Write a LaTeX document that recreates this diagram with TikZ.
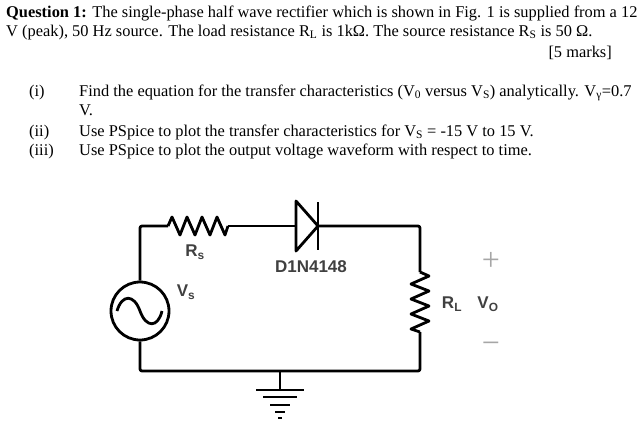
\documentclass[tikz,border=0pt]{standalone}
\usepackage{fontspec}
\setmainfont{Liberation Serif}
\setsansfont{Liberation Sans}
\definecolor{labelgray}{HTML}{404040}
\tikzset{
	wire/.style={line width=2.8pt, line join=round},
	line/.style={anchor=base west, inner sep=0pt, font=\fontsize{16.4}{18}\selectfont},
	lab/.style={inner sep=0pt, text=labelgray, font=\sffamily\bfseries\fontsize{17}{18}\selectfont},
	sign/.style={inner sep=0pt, text=gray!70, font=\fontsize{32}{32}\selectfont}
}
\newcommand{\resistor}[4][0] % [angle]{name}{x}{y}
{
	\draw [wire, rotate around={#1:(#3,#4)}] (#3,#4) -- (#3+4,#4-9) -- (#3+12,#4+9) -- (#3+19,#4-9) -- (#3+27,#4+9)
		-- (#3+34,#4-9) -- (#3+42,#4+9) -- (#3+49,#4-9) -- (#3+57,#4+9) -- (#3+60,#4);
}
\newcommand{\diode}[3] % {x}{y}{name}
{
	\draw [wire] (#1,#2-25) -- (#1+22,#2) -- (#1,#2+25) -- cycle;
	\draw [wire] (#1+22,#2-24) -- (#1+22,#2+24);
	\coordinate (#3a) at (#1,#2);
	\coordinate (#3k) at (#1+22,#2);
}
\begin{document}
\begin{tikzpicture}[x=1pt,y=-1pt]
	\useasboundingbox (0,0) rectangle (641,424);

	% question text
	\node [line] (q1) at (6,17) {\textbf{Question 1:} The single-phase half wave rectifier which is shown in Fig. 1 is supplied from a 12};
	\node [line] (q2) at (6,36) {V (peak), 50 Hz source. The load resistance R\textsubscript{L} is 1kΩ. The source resistance R\textsubscript{S} is 50 Ω.};
	\node [line, anchor=base east] (marks) at (612,57) {[5 marks]};
	\node [line] (i) at (29,96) {(i)};
	\node [line] (t1) at (79,96) {Find the equation for the transfer characteristics (V\textsubscript{0} versus V\textsubscript{S}) analytically. V\textsubscript{γ}=0.7};
	\node [line] (t1b) at (79,115) {V.};
	\node [line] (ii) at (29,136) {(ii)};
	\node [line] (t2) at (79,136) {Use PSpice to plot the transfer characteristics for V\textsubscript{S} = -15 V to 15 V.};
	\node [line] (iii) at (29,155) {(iii)};
	\node [line] (t3) at (79,155) {Use PSpice to plot the output voltage waveform with respect to time.};

	% circuit
	\node [circle, draw, line width=2.8pt, minimum size=58pt, inner sep=0pt] (vs) at (140,311) {};
	\draw [wire] (117,311) .. controls (122,294) and (134,294) .. (140,311) .. controls (146,328) and (158,328) .. (162,311);
	\coordinate (rsa) at (168,226);
	\coordinate (rsb) at (228,226);
	\coordinate (rla) at (420,272);
	\coordinate (rlb) at (420,332);
	\coordinate (gnd) at (280,371);
	\coordinate (gndb) at (280,390);
	\resistor{rs}{168}{226}
	\resistor[-90]{rl}{420}{272}
	\diode{296}{226}{d}
	\draw [wire, rounded corners=2pt] (vs.north) |- (rsa);
	\draw [wire] (rsb) -- (da);
	\draw [wire, rounded corners=2pt] (dk) -| (rla);
	\draw [wire, rounded corners=2pt] (vs.south) |- (gnd) -| (rlb);
	\draw [wire] (gnd) -- (gndb);
	\draw [wire] (256,390) -- (304,390);
	\draw [wire] (263,397) -- (297,397);
	\draw [wire] (270,405) -- (290,405);
	\draw [wire] (275,412) -- (285,412);
	\draw [wire] (278,418) -- (282,418);

	% labels
	\node [lab] (rslab) at (195,252) {R\textsubscript{s}};
	\node [lab] (dlab) at (311,267) {D1N4148};
	\node [lab] (vslab) at (186,292) {V\textsubscript{s}};
	\node [lab] (rllab) at (452,304) {R\textsubscript{L}};
	\node [lab] (volab) at (488,304) {V\textsubscript{O}};
	\node [sign] (plus) at (491,261) {+};
	\node [sign] (minus) at (491,348) {−};
\end{tikzpicture}
\end{document}
